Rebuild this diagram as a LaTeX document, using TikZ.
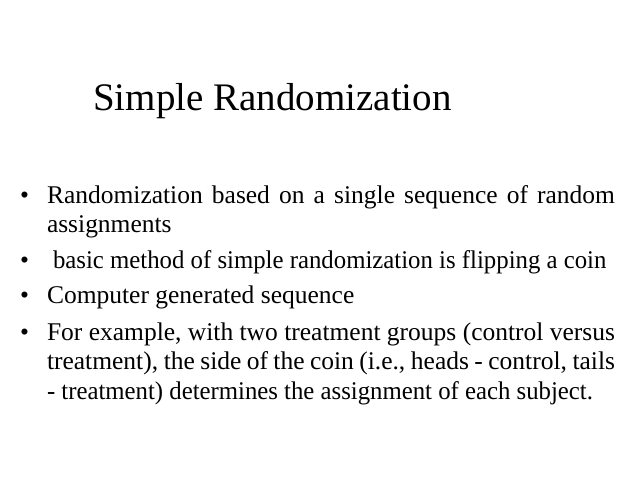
\documentclass[tikz,border=0pt]{standalone}
\usepackage{fontspec}
\setmainfont{Liberation Serif}
\begin{document}
\begin{tikzpicture}[x=1pt,y=1pt,
  txt/.style={anchor=base west,inner sep=0pt,outer sep=0pt,font=\fontsize{25.5}{29}\selectfont},
  ttl/.style={anchor=base west,inner sep=0pt,font=\fontsize{39}{44}\selectfont},
  bul/.style={anchor=base west,inner sep=0pt,font=\fontsize{25.5}{29}\selectfont}]
\useasboundingbox (0,0) rectangle (638,-479);
\node[ttl] (title) at (93,-110) {Simple Randomization};
\node[bul] (b1) at (20,-203) {•};
\node[txt] (l1) at (47,-203) {\makebox[568pt][s]{Randomization based on a single sequence of random}};
\node[txt] (l2) at (47,-232) {assignments};
\node[bul] (b2) at (20,-268) {•};
\node[txt] (l3) at (53,-268) {\scalebox{0.972}[1]{basic method of simple randomization is flipping a coin}};
\node[bul] (b3) at (20,-303) {•};
\node[txt] (l4) at (47,-303) {Computer generated sequence};
\node[bul] (b4) at (20,-340) {•};
\node[txt] (l5) at (47,-340) {\makebox[568pt][s]{For example, with two treatment groups (control versus}};
\node[txt] (l6) at (47,-369) {\makebox[568pt][s]{treatment), the side of the coin (i.e., heads - control, tails}};
\node[txt] (l7) at (47,-399) {\scalebox{0.971}[1]{- treatment) determines the assignment of each subject.}};
\end{tikzpicture}
\end{document}
